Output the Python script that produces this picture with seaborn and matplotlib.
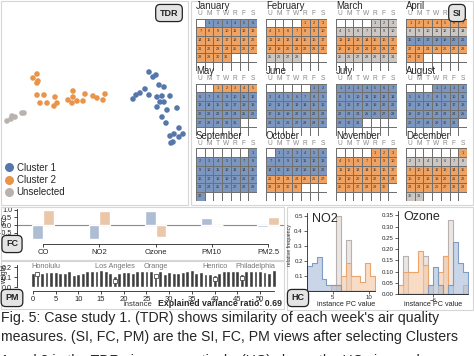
import numpy as np
import pandas as pd
import matplotlib
matplotlib.use('Agg')
import matplotlib.pyplot as plt
from matplotlib.colors import ListedColormap
from matplotlib.lines import Line2D
from matplotlib.patches import Rectangle
import seaborn as sns

# ---- data ----
# TDR projection (one point per week), in panel pixel units
c1_x = [149, 153, 156, 159, 164, 145, 140, 136, 133, 149, 157, 162, 170, 160, 164, 157, 167, 177, 162, 166, 179, 174, 183, 170, 179, 173, 171]
c1_y = [72, 77, 75, 85, 87, 89, 93, 95, 99, 95, 97, 96, 96, 102, 102, 107, 110, 108, 117, 123, 128, 134, 134, 136, 137, 142, 143]
c2_x = [37, 33, 38, 37, 37, 44, 40, 47, 55, 57, 54, 68, 73, 73, 72, 77, 83, 85, 93, 97, 105, 103]
c2_y = [74, 78, 81, 83, 95, 95, 103, 103, 97, 103, 106, 100, 91, 97, 103, 101, 101, 94, 96, 98, 94, 100]
un_x = [7, 11, 12, 15, 22, 24]
un_y = [121, 119, 116, 117, 113, 113]

# cluster of each week of 2018 (weeks start on Sunday 2017-12-31); 0 unselected, 1 cluster 1, 2 cluster 2
week_cluster = [1, 2, 2, 2, 2, 2, 2, 2, 0, 0, 2, 2, 0, 2, 0, 1, 2, 2,
                1, 1, 1, 1, 1, 1, 1, 1, 1, 1, 1, 1, 1, 1, 1, 1, 1, 1, 1, 1, 1, 1, 1, 1,
                2, 2, 2, 2, 2, 2, 0, 2, 2, 2, 0]
month_names = ['January', 'February', 'March', 'April', 'May', 'June', 'July',
               'August', 'September', 'October', 'November', 'December']
weekdays = list('UMTWRFS')

measures = ['CO', 'NO2', 'Ozone', 'PM10', 'PM2.5']
fc_cluster1 = [-0.95, -0.90, 0.92, 0.43, -0.12]
fc_cluster2 = [1.00, 0.92, -0.82, -0.03, 0.52]

pm_weight = [0.146, 0.163, 0.146, 0.156, 0.156, 0.156, 0.146, 0.139, 0.163, 0.122,
             0.129, 0.146, 0.163, 0.163, 0.163, 0.170, 0.163, 0.146, 0.112, 0.146,
             0.156, 0.156, 0.146, 0.163, 0.163, 0.163, 0.163, 0.136, 0.163, 0.129,
             0.156, 0.146, 0.146, 0.156, 0.163, 0.170, 0.146, 0.156, 0.129, 0.129,
             0.122, 0.146, 0.163, 0.163, 0.163, 0.163, 0.136, 0.163, 0.163, 0.163,
             0.163, 0.156, 0.146, 0.170]
cities = ['Honolulu', 'Los Angeles', 'Orange', 'Henrico', 'Philadelphia']
city_idx = [1, 18, 27, 40, 46]
city_val = [0.128, 0.065, 0.11, 0.08, 0.095]

no2_edges = [1.45, 2.125, 2.8, 3.475, 4.15, 4.825, 5.5, 6.175, 6.85, 7.525, 8.2, 8.875, 9.55, 10.225, 10.9]
no2_c1 = [0.17, 0.19, 0.23, 0.08, 0.04, 0.04, 0.04, 0, 0, 0, 0, 0, 0, 0]
no2_c2 = [0, 0, 0, 0, 0, 0.04, 0.04, 0.10, 0.19, 0.10, 0.10, 0.06, 0.19, 0.10]
no2_un = [0, 0, 0, 0, 0, 0, 0.50, 0, 0.34, 0, 0, 0, 0, 0]
oz_edges = [-11, -10.286, -9.571, -8.857, -8.143, -7.429, -6.714, -6.0, -5.286, -4.571, -3.857, -3.143, -2.429, -1.714, -1.0]
oz_c1 = [0, 0, 0, 0, 0, 0, 0.04, 0.12, 0.04, 0, 0.04, 0.23, 0.14, 0.10]
oz_c2 = [0.04, 0.10, 0.10, 0.10, 0.19, 0.13, 0.04, 0, 0.10, 0.17, 0, 0, 0, 0.04]
oz_un = [0, 0.17, 0, 0, 0, 0.17, 0, 0, 0, 0.17, 0.33, 0, 0, 0]

caption = ["Fig. 5: Case study 1. (TDR) shows similarity of each week's air quality",
           "measures. (SI, FC, PM) are the SI, FC, PM views after selecting Clusters",
           "1 and 2 in the TDR view, respectively. (HC) shows the HC views when"]

BLUE, ORANGE, GRAY = '#5577aa', '#e8944a', '#bab2ae'
CAL = ['#cdc7c4', '#7b96bf', '#f0a262']
LBLUE, LORANGE = '#a7bcd8', '#f6c69f'

sns.set_style('ticks')
plt.rcParams['font.family'] = ['Liberation Sans', 'DejaVu Sans']

W, H = 474, 356
fig = plt.figure(figsize=(W / 100, H / 100), dpi=100)


def box(x, y, w, h):
    return [x / W, 1 - (y + h) / H, w / W, h / H]


def ftext(x, y, s, **kw):
    return fig.text(x / W, 1 - y / H, s, **kw)


def panel(x, y, w, h):
    fig.add_artist(Rectangle((x / W, 1 - (y + h) / H), w / W, h / H, transform=fig.transFigure,
                             fill=False, ec='#d6d6d6', lw=0.8))


def badge(x, y, s):
    ftext(x, y, s, ha='center', va='center', fontsize=6.5, fontweight='bold', zorder=10,
          bbox=dict(boxstyle='round,pad=0.45,rounding_size=0.5', fc='#e4e4e4', ec='#222222', lw=0.9))


panel(1, 1, 187, 204)
panel(191, 1, 282, 204)
panel(1, 207, 283, 53)
panel(1, 261, 283, 48)
panel(287, 207, 186, 103)

# ---- TDR scatter ----
ax = fig.add_axes(box(1, 1, 187, 204))
tdr = pd.DataFrame({'x': c1_x + c2_x + un_x, 'y': c1_y + c2_y + un_y,
                    'group': ['Cluster 1'] * len(c1_x) + ['Cluster 2'] * len(c2_x) + ['Unselected'] * len(un_x)})
pal = {'Cluster 1': BLUE, 'Cluster 2': ORANGE, 'Unselected': GRAY}
sns.scatterplot(data=tdr, x='x', y='y', hue='group', palette=pal, s=16, linewidth=0, legend=False, ax=ax)
ax.set_xlim(1, 188)
ax.set_ylim(205, 1)
ax.set_axis_off()
handles = [Line2D([], [], marker='o', ls='', mfc=pal[k], mec='none', ms=6.5) for k in pal]
ax.legend(handles, list(pal), loc='lower left', bbox_to_anchor=(-0.02, 0.01), frameon=False,
          fontsize=7, handletextpad=0.1, labelspacing=0.22, handlelength=1.3, borderaxespad=0.2)
badge(169, 13, 'TDR')

# ---- SI calendar ----
cmap = ListedColormap(CAL)
start = pd.Timestamp('2017-12-31')
for m in range(12):
    col, row = m % 4, m // 4
    first = pd.Timestamp(2018, m + 1, 1)
    offset = (first.weekday() + 1) % 7
    grid = np.full((6, 7), np.nan)
    ann = np.full((6, 7), '', dtype=object)
    for d in range(first.days_in_month):
        date = first + pd.Timedelta(days=d)
        r, c = divmod(offset + d, 7)
        grid[r, c] = week_cluster[(date - start).days // 7]
        ann[r, c] = str(d + 1)
    cax = fig.add_axes(box(196 + col * 70, 18.5 + row * 65, 61, 52))
    sns.heatmap(grid, mask=np.isnan(grid), cmap=cmap, vmin=-0.5, vmax=2.5, cbar=False,
                annot=ann, fmt='', annot_kws={'size': 2.8, 'color': '#333333'},
                linewidths=0.4, linecolor='#707070', xticklabels=weekdays, yticklabels=False, ax=cax)
    cax.xaxis.tick_top()
    cax.tick_params(axis='x', length=0, pad=1, labelsize=4.8, labelcolor='#888888')
    ftext(196 + col * 70, 6 + row * 65, month_names[m], fontsize=6.9, va='center', ha='left')
badge(457, 13, 'SI')

# ---- FC bars ----
ax = fig.add_axes(box(17, 209, 268, 32))
fc = pd.DataFrame({'measure': measures * 2, 'fc': fc_cluster1 + fc_cluster2,
                   'cluster': ['Cluster 1'] * 5 + ['Cluster 2'] * 5})
sns.barplot(data=fc, x='measure', y='fc', hue='cluster', palette=[LBLUE, LORANGE], width=0.38,
            legend=False, ax=ax)
ax.axhline(0, color='#8a8a8a', lw=0.8, zorder=0)
ax.set_xlim(-0.46, 4.3)
ax.set_ylim(-1.05, 1.05)
ax.set_yticks([1.0, 0.5, 0.0, -0.5])
ax.set_yticklabels(['1.0', '0.5', '0.0', '-0.5'])
ax.set_xlabel('')
ax.set_ylabel('')
sns.despine(ax=ax)
ax.spines['bottom'].set_position(('outward', 2))
ax.spines['bottom'].set_bounds(0, 4)
ax.tick_params(labelsize=5.2, length=2.5, width=0.6, pad=1)
ax.tick_params(axis='x', labelsize=5.5)
for s in ax.spines.values():
    s.set_linewidth(0.6)
ftext(4.5, 220, 'FC', rotation=90, fontsize=5.3, ha='center', va='center')
badge(12, 244, 'FC')

# ---- PM bars ----
ax = fig.add_axes(box(17, 265, 268, 22))
sns.barplot(x=list(range(len(pm_weight))), y=pm_weight, color='#3e3e3e', width=0.85, ax=ax)
ax.scatter(city_idx, city_val, marker='s', s=7, fc='white', ec='#333333', lw=0.5, zorder=3)
last = len(cities) - 1
for i, (name, idx) in enumerate(zip(cities, city_idx)):
    if i == 0 or i == last:
        ax.text(idx - 1.4, 0.21, name, ha='left', va='center', fontsize=5.3, color='#777777', clip_on=False)
    else:
        ax.text(idx, 0.21, name, ha='center', va='center', fontsize=5.3, color='#777777', clip_on=False)
ax.set_xlim(-3.5, 55.5)
ax.set_ylim(0, 0.225)
ax.set_xticks(range(0, 54, 5))
ax.set_xticklabels([str(t) for t in range(0, 54, 5)])
ax.set_yticks([0.0, 0.1, 0.2])
ax.set_yticklabels(['0.0', '0.1', '0.2'])
sns.despine(ax=ax)
ax.spines['bottom'].set_position(('outward', 3))
ax.spines['bottom'].set_bounds(0, 53)
ax.tick_params(labelsize=5.2, length=2.5, width=0.6, pad=1)
ax.tick_params(axis='x', labelsize=5.5)
for s in ax.spines.values():
    s.set_linewidth(0.6)
ftext(4.5, 274, 'weight', rotation=90, fontsize=4.8, ha='center', va='center')
ftext(138, 304, 'instance', fontsize=5.5, ha='center', va='center', color='#333333')
ftext(158, 304, 'Explained variance ratio: 0.69', fontsize=6.3, fontweight='bold', ha='left', va='center')
badge(12, 298, 'PM')

# ---- HC histograms ----
hists = [('NO2', no2_edges, no2_c1, no2_c2, no2_un, box(307, 213, 68, 78), 0.52, [0.1, 0.2, 0.3, 0.4, 0.5], [5, 10]),
         ('Ozone', oz_edges, oz_c1, oz_c2, oz_un, box(398, 211, 70, 83), 0.37,
          [0.0, 0.05, 0.1, 0.15, 0.2, 0.25, 0.3, 0.35], [-6])]
for title, edges, h1, h2, hu, rect, ytop, yt, xt in hists:
    ax = fig.add_axes(rect)
    centers = [(a + b) / 2 for a, b in zip(edges[:-1], edges[1:])]
    for heights, ec, fcol in [(hu, '#b9b1ad', '#dcd6d3'), (h2, '#eba46a', LORANGE), (h1, '#7f9cc4', LBLUE)]:
        sns.histplot(x=centers, weights=heights, bins=edges, element='step', fill=True,
                     color=fcol, edgecolor=ec, alpha=0.6, linewidth=0.8, ax=ax)
    ax.set_xlim(edges[0], edges[-1])
    ax.set_ylim(0, ytop)
    ax.set_yticks(yt)
    ax.set_yticklabels(['%g' % v if title == 'NO2' else '%.2f' % v for v in yt])
    ax.set_xticks(xt)
    ax.set_xlabel('')
    ax.set_ylabel('')
    sns.despine(ax=ax)
    ax.tick_params(labelsize=4.4, length=2, width=0.5, pad=1)
    for s in ax.spines.values():
        s.set_linewidth(0.6)
    ax.text(0.08, 1.0, title, transform=ax.transAxes, fontsize=9, va='top', ha='left')
ftext(290, 245, 'relative frequency', rotation=90, fontsize=3.8, ha='center', va='center')
ftext(346, 305, 'instance PC value', fontsize=5.2, ha='center', va='center')
ftext(433, 305, 'instance PC value', fontsize=5.2, ha='center', va='center')
badge(298, 298, 'HC')

# ---- caption (third line runs off the bottom edge, as in the source) ----
for i, (line, y) in enumerate(zip(caption, [318, 337.5, 361])):
    ftext(1, y, line, fontsize=10.2, ha='left', va='center')

fig.savefig('out.png', dpi=100)
